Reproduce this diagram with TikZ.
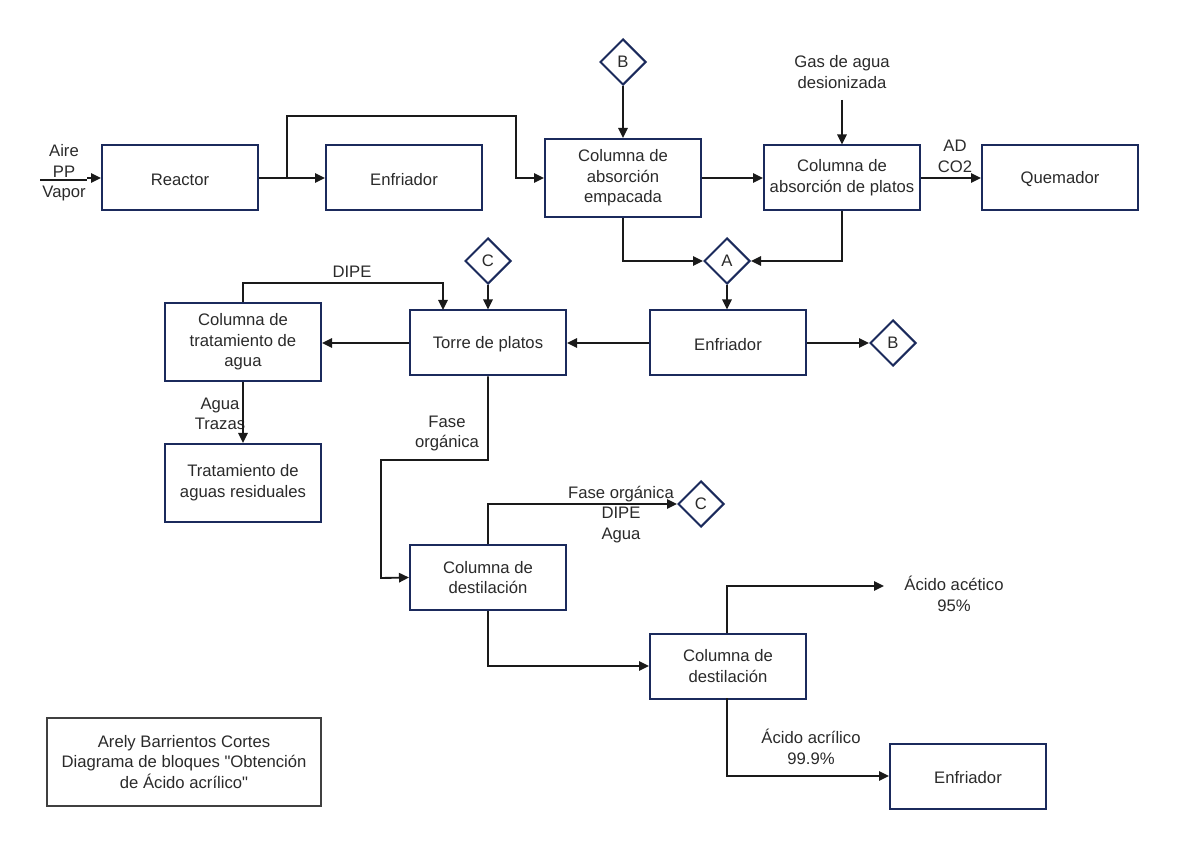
\documentclass[tikz,border=0pt]{standalone}
\usepackage{fontspec}
\setmainfont{Liberation Sans}
\newfontfamily\plainf{Liberation Sans}
\usetikzlibrary{arrows.meta,shapes.geometric,calc}
\definecolor{boxblue}{HTML}{1B2A5C}
\definecolor{txt}{HTML}{2A2A2A}
\definecolor{ln}{HTML}{1A1A1A}
\tikzset{
  lbl/.style={font=\fontsize{12.5}{15.5}\selectfont,text=txt,align=center,inner sep=0pt},
  blk/.style={draw=boxblue,line width=1.5pt,minimum width=117pt,minimum height=48.75pt,inner sep=0pt,
    font=\fontsize{12.5}{15.5}\selectfont,text=txt,align=center,anchor=center,
    execute at begin node={\rule{0pt}{11pt}}},
  tall/.style={blk,minimum height=58.5pt},
  dia/.style={diamond,aspect=1,draw=boxblue,line width=1.5pt,minimum width=34.5pt,minimum height=34.5pt,inner sep=0pt,
    font=\fontsize{12.5}{15.5}\selectfont,text=txt},
  conn/.style={draw=ln,line width=1.4pt,-{Triangle[length=7.5pt,width=7pt]}},
  plain/.style={draw=ln,line width=1.4pt},
}
\begin{document}
\begin{tikzpicture}[x=0.75pt,y=-0.75pt]
\useasboundingbox (0,0) rectangle (1200,848);
% blocks
\node[blk] (reactor) at (180,178) {Reactor};
\node[blk] (enf1) at (404,178) {Enfriador};
\node[tall] (emp) at (623,178) {Columna de\\absorción\\empacada};
\node[blk] (platos) at (842,178) {Columna de\\absorción de platos};
\node[blk] (quem) at (1060,178) {Quemador};
\node[dia] (bt) at (623,62) {B};
\node[dia] (a) at (727,261) {A};
\node[dia] (ct) at (488,261) {C};
\node[dia] (br) at (893,343) {B};
\node[dia] (cr) at (701,504) {C};
\node[tall] (trat) at (243,342) {Columna de\\tratamiento de\\agua};
\node[blk] (torre) at (488,343) {Torre de platos};
\node[blk] (enf2) at (728,343) {Enfriador};
\node[tall] (aguas) at (243,483) {Tratamiento de\\aguas residuales};
\node[blk] (dest1) at (488,577.5) {Columna de\\destilación};
\node[blk] (dest2) at (728,666) {Columna de\\destilación};
\node[blk] (enf3) at (968,776) {Enfriador};
\node[draw=black!75,line width=1.2pt,minimum width=205.5pt,minimum height=66pt,inner sep=0pt,
  font=\fontsize{12.5}{15.5}\selectfont,text=txt,align=center] (info) at (184,762)
  {Arely Barrientos Cortes\\Diagrama de bloques {\plainf"}Obtención\\de Ácido acrílico{\plainf"}};
% labels
\node[lbl] (lin) at (64,173) {Aire\\PP\\Vapor};
\node[lbl] (lgas) at (842,72) {Gas de agua\\desionizada};
\node[lbl] (lad) at (955,156.5) {AD\\CO2};
\node[lbl] (ldipe) at (352,272) {DIPE};
\node[lbl] (lagua) at (220,414) {Agua\\Trazas};
\node[lbl] (lfase) at (447,433.5) {Fase\\orgánica};
\node[lbl] (lfo) at (621,514.5) {Fase orgánica\\DIPE\\Agua};
\node[lbl] (lace) at (954,594) {Ácido acético\\95\%};
\node[lbl] (lacr) at (811,747) {Ácido acrílico\\99.9\%};
% free ends
\coordinate (in0) at (40,180);
\coordinate (in1) at (87,180);
\coordinate (in2) at (87,178);
\coordinate (gas) at (842,100);
\coordinate (ace) at (884,586);
\coordinate (tap) at (287,178);
% connectors
\draw[plain] (in0) -- (in1);
\draw[conn] (in2) -- (reactor.west);
\draw[conn] (reactor.east) -- (enf1.west);
\draw[conn] (tap) -- (287,116) -- (516,116) -- (516,178) -- (emp.west);
\draw[conn] (bt.south) -- (emp.north);
\draw[conn] (emp.east) -- (platos.west);
\draw[conn] (gas) -- (platos.north);
\draw[conn] (platos.east) -- (quem.west);
\draw[conn] (emp.south) |- (a.west);
\draw[conn] (platos.south) |- (a.east);
\draw[conn] (a.south) -- (a.south |- enf2.north);
\draw[conn] (enf2.east) -- (br.west);
\draw[conn] (enf2.west) -- (torre.east);
\draw[conn] (torre.west) -- (torre.west -| trat.east);
\draw[conn] (ct.south) -- (torre.north);
\draw[conn] (trat.north) -- (243,283) -- (443,283) -- (443,310);
\draw[conn] (trat.south) -- (aguas.north);
\draw[conn] (torre.south) -- (488,460) -- (381,460) -- (381,578) -- (dest1.west);
\draw[conn] (dest1.north) |- (cr.west);
\draw[conn] (dest1.south) |- (dest2.west);
\draw[conn] (727,633) -- (727,586) -- (ace);
\draw[conn] (727,698) -- (727,776) -- (enf3.west);
\end{tikzpicture}
\end{document}
